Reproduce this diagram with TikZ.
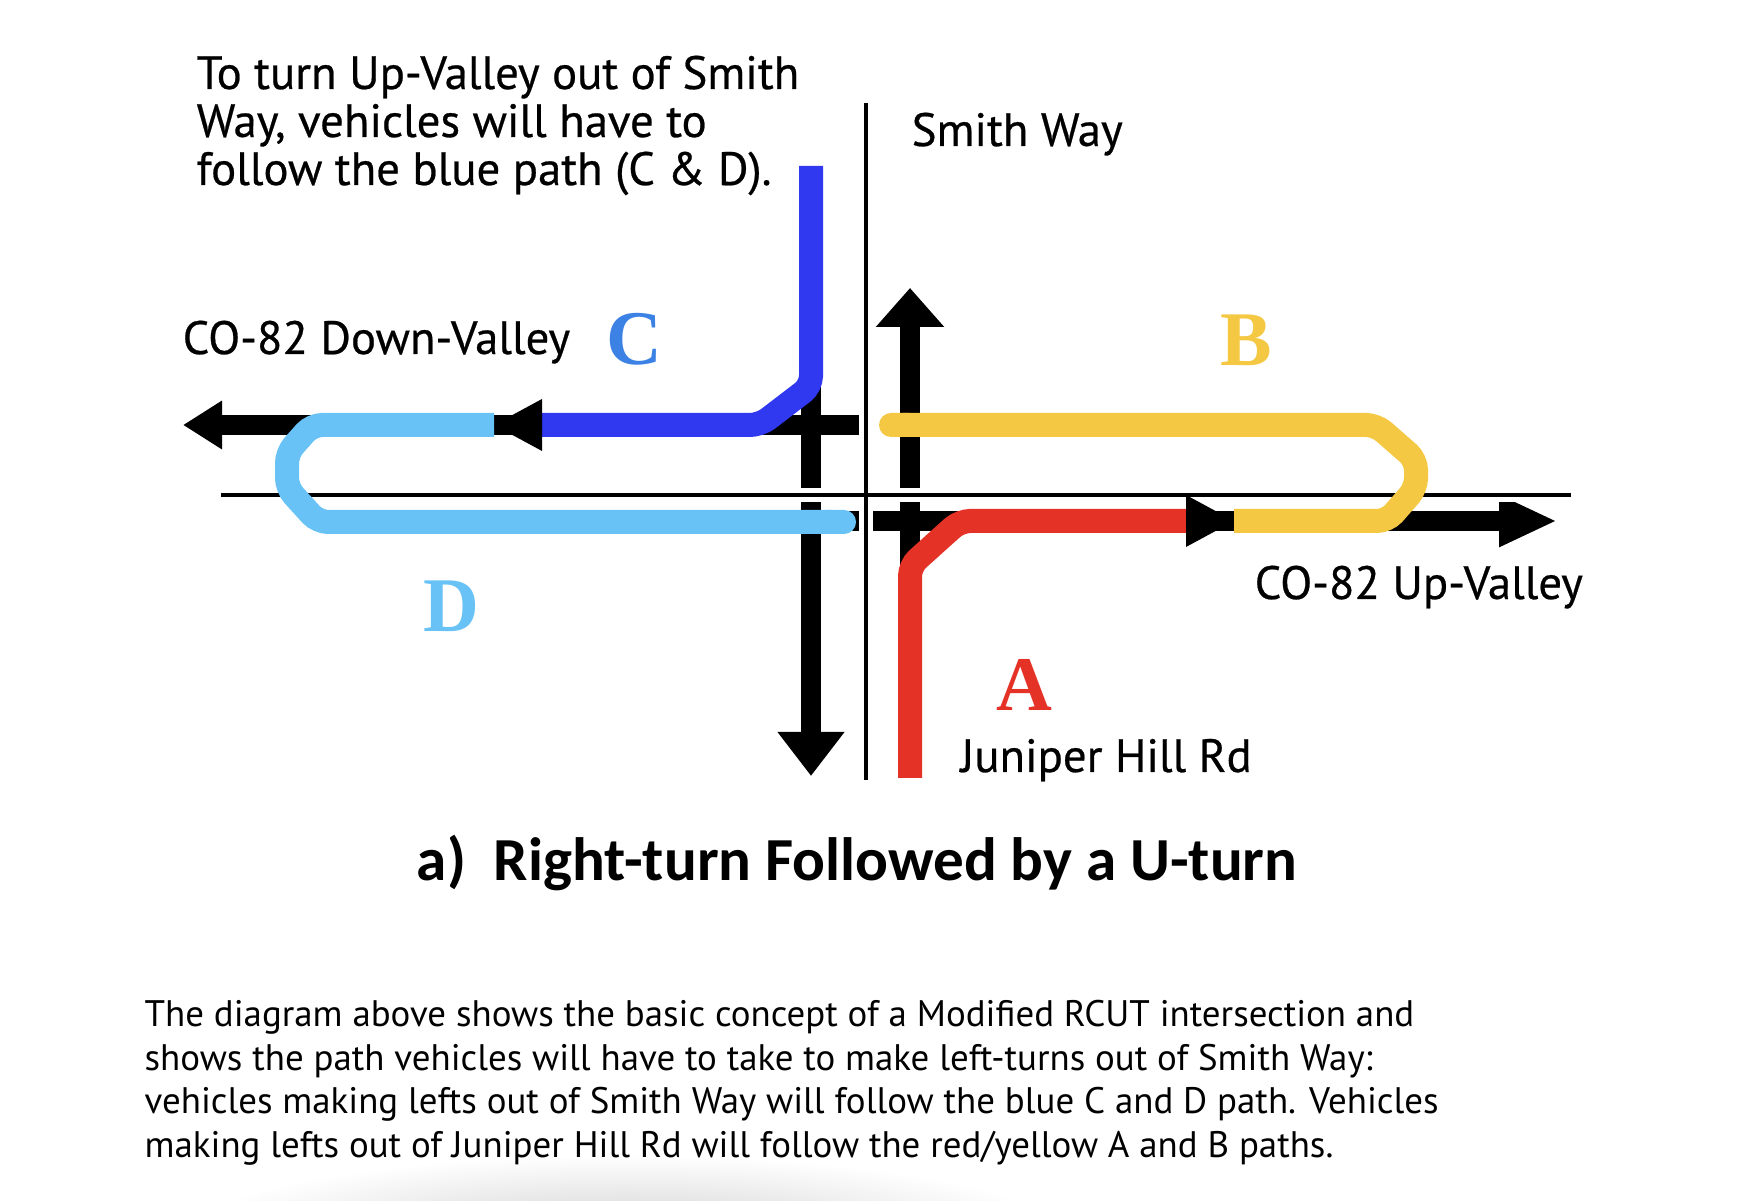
\documentclass[tikz,border=0pt]{standalone}
\usepackage{fontspec}
\setmainfont{PT Sans}
\newfontfamily\labelfont[FakeBold=0.5]{PT Sans}
\newfontfamily\capfont{Carlito}
\newfontfamily\letterfont{Liberation Serif}
\usetikzlibrary{arrows.meta}

\definecolor{laneblue}{RGB}{48,56,240}
\definecolor{lanesky}{RGB}{104,194,245}
\definecolor{laneyellow}{RGB}{244,200,66}
\definecolor{lanered}{RGB}{228,50,38}
\definecolor{letterblue}{RGB}{60,130,228}

\begin{document}
\begin{tikzpicture}[x=0.1mm,y=-0.1mm,
  road/.style={line width=2mm},
  thinroad/.style={line width=.4mm},
  casing/.style={white,line width=1.4mm},
  lane/.style={line width=2.4mm,rounded corners=1mm},
  label/.style={anchor=base west,inner sep=0pt,font=\labelfont\fontsize{13.3}{15}\selectfont},
  body/.style={anchor=base west,inner sep=0pt,font=\fontsize{10.5}{12}\selectfont},
  pathletter/.style={inner sep=0pt,font=\letterfont\bfseries\fontsize{22}{24}\selectfont}]
\useasboundingbox (0,0) rectangle (1760,1201);
% soft shadow at the foot
\shade[inner color=black!18,outer color=white] (625,1235) ellipse [x radius=440,y radius=80];
% through lanes
\draw[road,-{Triangle[length=3.9mm,width=4.6mm]}] (868,425)--(183,425);
\draw[road,-{Triangle[length=5.8mm,width=4.8mm]}] (320,521)--(1557,521);
\draw[road,-{Triangle[length=4.4mm,width=6.4mm]}] (811,170)--(811,776);
\draw[road,-{Triangle[length=3.9mm,width=6.6mm]}] (910,772)--(910,288);
% centre lines
\draw[casing] (221,495)--(1571,495) (866,103)--(866,780);
\draw[thinroad] (221,495)--(1571,495) (866,103)--(866,780);
% vehicle paths
\draw[lane,laneblue] (811,166)--(811,386)--(760,425)--(542,425);
\draw[lane,lanesky,-{Round Cap}] (494,425)--(312,425)--(287,453)--(287,488)--(318,522)--(856,522);
\draw[lane,lanered] (910,778)--(910,566)--(960,521)--(1186,521);
\draw[lane,laneyellow,{Round Cap}-] (879,425)--(1376,425)--(1416,460)--(1416,488)--(1387,521)--(1234,521);
\fill (494,425)--(542,399)--(542,451)--cycle;
\fill (1234,521)--(1186,495)--(1186,547)--cycle;
% texts
\node[label] (note1) at (196,89) {To turn Up-Valley out of Smith};
\node[label] (note2) at (196,137) {Way, vehicles will have to};
\node[label] (note3) at (196,185) {follow the blue path (C \& D).};
\node[label] (smith) at (911,146) {Smith Way};
\node[label] (down) at (182,354) {CO-82 Down-Valley};
\node[label] (up) at (1254,599) {CO-82 Up-Valley};
\node[label] (juniper) at (960,772) {Juniper Hill Rd};
\node[pathletter,letterblue] (C) at (634,339) {C};
\node[pathletter,laneyellow] (B) at (1246,340) {B};
\node[pathletter,lanesky] (D) at (451,606) {D};
\node[pathletter,lanered] (A) at (1024,685) {A};
\node[anchor=base,inner sep=0pt,font=\capfont\bfseries\fontsize{17.4}{19}\selectfont] (caption) at (857,881) {a)\ \ Right-turn Followed by a U-turn};
\node[body] (body1) at (144,1026) {The diagram above shows the basic concept of a Modified RCUT intersection and};
\node[body] (body2) at (144,1070) {shows the path vehicles will have to take to make left-turns out of Smith Way:};
\node[body] (body3) at (144,1113) {vehicles making lefts out of Smith Way will follow the blue C and D path. Vehicles};
\node[body] (body4) at (144,1157) {making lefts out of Juniper Hill Rd will follow the red/yellow A and B paths.};
\end{tikzpicture}
\end{document}
